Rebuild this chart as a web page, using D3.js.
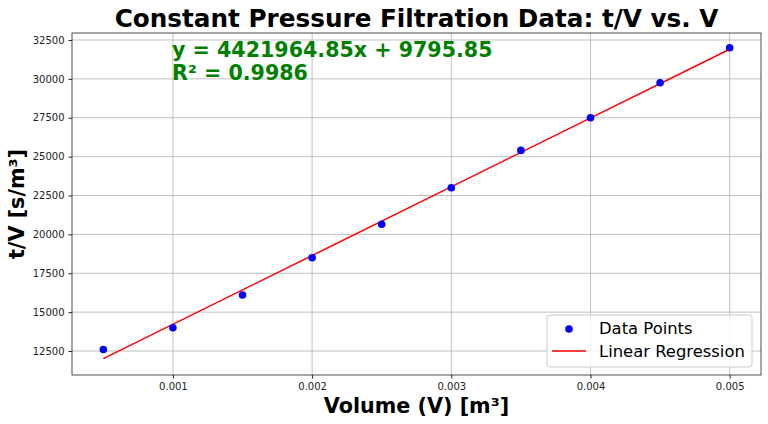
<!DOCTYPE html>
<html><head><meta charset="utf-8">
<script src="https://cdn.jsdelivr.net/npm/d3@7/dist/d3.min.js"></script>
<style>body{margin:0;background:#fff}svg{display:block}</style>
</head><body>
<script>
const volumes = [0.0005,0.001,0.0015,0.002,0.0025,0.003,0.0035,0.004,0.0045,0.005];
const tOverV = [12600,14000,16100,18500,20650,23000,25400,27500,29750,32000];
const slope = 4421964.85, intercept = 9795.85, r2 = 0.9986;
const xTicks = [0.001,0.002,0.003,0.004,0.005];
const yTicks = [12500,15000,17500,20000,22500,25000,27500,30000,32500];

const W=768,H=424, L=72,R=761,T=33,B=375;
const svg=d3.select("body").append("svg").attr("width",W).attr("height",H);
const x=d3.scaleLinear().domain([0.000275,0.005225]).range([L,R]);
const y=d3.scaleLinear().domain([10958,32950]).range([B,T]);
const font="DejaVu Sans, sans-serif";

// grid
svg.append("g").selectAll("line").data(xTicks).join("line")
 .attr("x1",d=>x(d)).attr("x2",d=>x(d)).attr("y1",T).attr("y2",B)
 .attr("stroke","#b0b0b0").attr("stroke-width",0.8);
svg.append("g").selectAll("line").data(yTicks).join("line")
 .attr("y1",d=>y(d)).attr("y2",d=>y(d)).attr("x1",L).attr("x2",R)
 .attr("stroke","#b0b0b0").attr("stroke-width",0.8);

// axes
const xa=svg.append("g").attr("transform",`translate(0,${B})`)
 .call(d3.axisBottom(x).tickValues(xTicks).tickFormat(d3.format(".3f")).tickSize(3.5).tickPadding(4));
const ya=svg.append("g").attr("transform",`translate(${L},0)`)
 .call(d3.axisLeft(y).tickValues(yTicks).tickFormat(d=>String(d)).tickSize(3.5).tickPadding(4));
[xa,ya].forEach(a=>{a.select(".domain").remove();a.selectAll("text").attr("font-family",font).attr("font-size",10).attr("fill","#222");a.selectAll("line").attr("stroke","#222")});
svg.append("rect").attr("x",L).attr("y",T).attr("width",R-L).attr("height",B-T)
 .attr("fill","none").attr("stroke","#222").attr("stroke-width",0.8);

// regression line
const xr=d3.extent(volumes);
svg.append("line").attr("x1",x(xr[0])).attr("y1",y(slope*xr[0]+intercept))
 .attr("x2",x(xr[1])).attr("y2",y(slope*xr[1]+intercept))
 .attr("stroke","red").attr("stroke-width",1.5);

// points
svg.append("g").selectAll("circle").data(volumes).join("circle")
 .attr("cx",d=>x(d)).attr("cy",(d,i)=>y(tOverV[i])).attr("r",3.8).attr("fill","blue");

// equation text
svg.append("text").attr("x",172).attr("y",57).attr("font-family",font).attr("font-weight","bold")
 .attr("font-size",20.6).attr("fill","green").text(`y = ${slope.toFixed(2)}x + ${intercept.toFixed(2)}`);
svg.append("text").attr("x",172).attr("y",80).attr("font-family",font).attr("font-weight","bold")
 .attr("font-size",20.6).attr("fill","green").text(`R² = ${r2.toFixed(4)}`);

// title & labels
svg.append("text").attr("x",(L+R)/2).attr("y",27).attr("text-anchor","middle").attr("font-family",font)
 .attr("font-weight","bold").attr("font-size",24.7).text("Constant Pressure Filtration Data: t/V vs. V");
svg.append("text").attr("x",(L+R)/2).attr("y",413).attr("text-anchor","middle").attr("font-family",font)
 .attr("font-weight","bold").attr("font-size",20.7).text("Volume (V) [m³]");
svg.append("text").attr("transform",`translate(24,${(T+B)/2}) rotate(-90)`).attr("text-anchor","middle").attr("font-family",font)
 .attr("font-weight","bold").attr("font-size",20.7).text("t/V [s/m³]");

// legend
const lg=svg.append("g");
lg.append("rect").attr("x",547).attr("y",315).attr("width",205).attr("height",52).attr("rx",3)
 .attr("fill","white").attr("fill-opacity",0.8).attr("stroke","#ccc").attr("stroke-width",1);
lg.append("circle").attr("cx",569).attr("cy",329).attr("r",3.8).attr("fill","blue");
lg.append("line").attr("x1",552).attr("x2",586).attr("y1",351).attr("y2",351).attr("stroke","red").attr("stroke-width",1.5);
lg.append("text").attr("x",599).attr("y",334).attr("font-family",font).attr("font-size",16.4).text("Data Points");
lg.append("text").attr("x",599).attr("y",357).attr("font-family",font).attr("font-size",16.4).text("Linear Regression");
</script>
</body></html>
